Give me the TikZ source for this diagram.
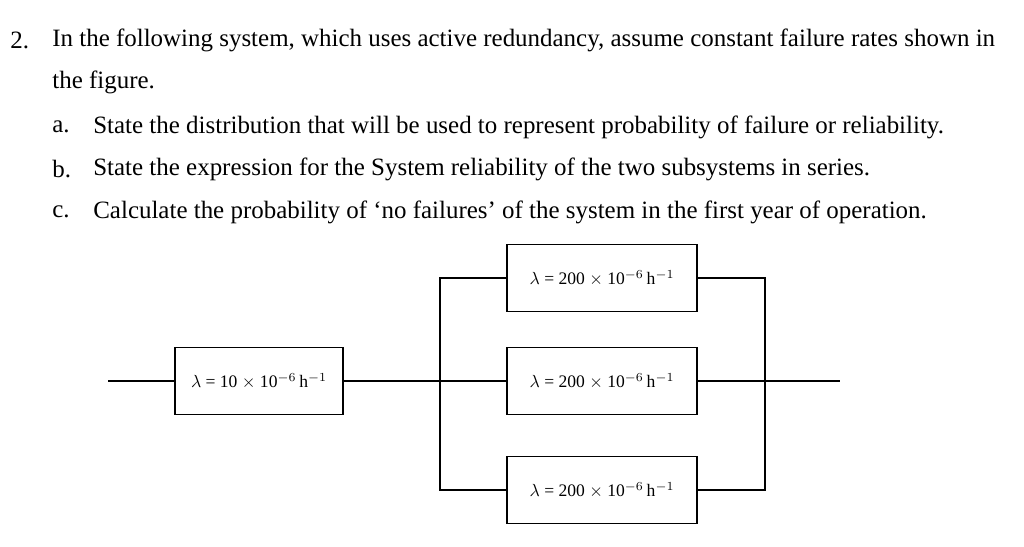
\documentclass[tikz,border=0pt]{standalone}
\usepackage{fontspec}
\setmainfont{Liberation Serif}
\begin{document}
\begin{tikzpicture}[x=0.02cm,y=-0.02cm,
  txt/.style={anchor=west,inner sep=0pt,font=\fontsize{14.2}{17}\selectfont},
  rbox/.style={draw,thick,minimum height=1.34cm,inner sep=0pt,font=\fontsize{10}{12}\selectfont},
  wire/.style={thick}]
\useasboundingbox (0,0) rectangle (1024,547);
\node[txt] (n2) at (10,40) {2.};
\node[txt] (l1) at (52,40) {In the following system, which uses active redundancy, assume constant failure rates shown in};
\node[txt] (l2) at (52,82) {the figure.};
\node[txt] (la) at (52,127) {a.};
\node[txt] (ta) at (93,127) {State the distribution that will be used to represent probability of failure or reliability.};
\node[txt] (lb) at (52,169) {b.};
\node[txt] (tb) at (93,169) {State the expression for the System reliability of the two subsystems in series.};
\node[txt] (lc) at (52,212) {c.};
\node[txt] (tc) at (93,212) {Calculate the probability of `no failures' of the system in the first year of operation.};
\node[rbox,minimum width=3.36cm] (b1) at (259,381) {$\lambda$ = 10 $\times$ 10$^{-6}$\,h$^{-1}$};
\node[rbox,minimum width=3.8cm] (bt) at (602,278) {$\lambda$ = 200 $\times$ 10$^{-6}$\,h$^{-1}$};
\node[rbox,minimum width=3.8cm] (bm) at (602,381) {$\lambda$ = 200 $\times$ 10$^{-6}$\,h$^{-1}$};
\node[rbox,minimum width=3.8cm] (bb) at (602,490) {$\lambda$ = 200 $\times$ 10$^{-6}$\,h$^{-1}$};
\coordinate (in) at (108,381);
\coordinate (out) at (840,381);
\coordinate (lt) at (440,278); \coordinate (lm) at (440,381); \coordinate (lb2) at (440,490);
\coordinate (rt) at (765,278); \coordinate (rm) at (765,381); \coordinate (rb) at (765,490);
\draw[wire] (in) -- (b1.west);
\draw[wire] (b1.east) -- (lm) -- (bm.west);
\draw[wire] (bt.west) -- (lt) -- (lb2) -- (bb.west);
\draw[wire] (bt.east) -- (rt) -- (rb) -- (bb.east);
\draw[wire] (bm.east) -- (rm) -- (out);
\end{tikzpicture}
\end{document}
